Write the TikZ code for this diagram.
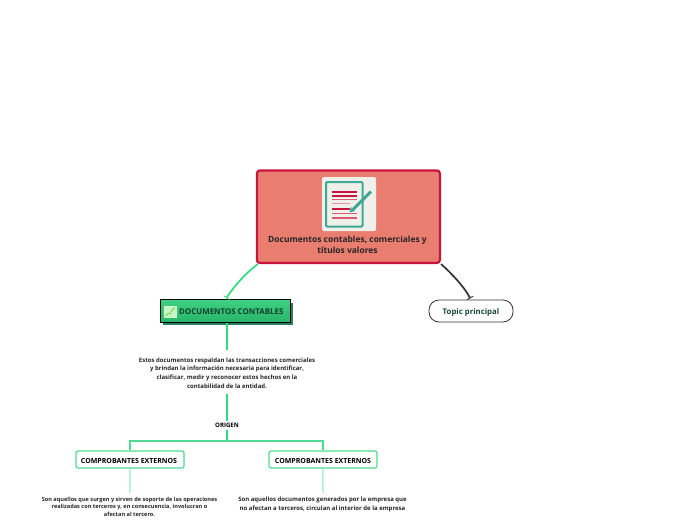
\documentclass[tikz,border=0pt]{standalone}
\usepackage{fontspec}
\setmainfont{Open Sans}[BoldFont={Open Sans Bold}]
\usetikzlibrary{arrows.meta}
\definecolor{crim}{HTML}{C8143C}
\definecolor{pinka}{HTML}{DB5A75}
\definecolor{pinkb}{HTML}{E8909F}
\definecolor{salmon}{HTML}{E97D6F}
\definecolor{paper}{HTML}{F0F0EA}
\definecolor{teal1}{HTML}{3FA796}
\definecolor{linkg}{HTML}{2FDC7E}
\definecolor{boxg}{HTML}{4FDB8F}
\definecolor{paleg}{HTML}{BDF3D4}
\definecolor{darkt}{HTML}{0E3F2E}
\definecolor{topict}{HTML}{17493A}
\definecolor{darkl}{HTML}{333333}
\definecolor{dctop}{HTML}{40D082}
\definecolor{dcbot}{HTML}{27B569}
\definecolor{dcsh}{HTML}{2E7D5B}
\tikzset{
  mainbox/.style={draw=crim,line width=2.2pt,fill=salmon,rounded corners=3pt,minimum width=183pt,minimum height=92.5pt,inner sep=0pt},
  maintext/.style={font=\fontsize{8.45}{11.6}\selectfont\bfseries,text=black!85,align=center,inner sep=0pt},
  dcbox/.style={draw=black,line width=1pt,top color=dctop,bottom color=dcbot,minimum width=129.5pt,minimum height=22.5pt,inner sep=0pt},
  dcshadow/.style={fill=dcsh,minimum width=129.5pt,minimum height=22.5pt,inner sep=0pt},
  dctext/.style={font=\fontsize{7.9}{8}\selectfont\bfseries,text=darkt,inner sep=0pt},
  topicbox/.style={draw=darkl,line width=.8pt,fill=white,rounded corners=10pt,minimum width=84pt,minimum height=22pt,inner sep=0pt},
  topictext/.style={font=\fontsize{7.8}{8}\selectfont\bfseries,text=topict,inner sep=0pt},
  notetext/.style={font=\fontsize{6}{8.7}\selectfont\bfseries,text=black!85,align=center,inner sep=0pt},
  notetight/.style={font=\fontsize{5.6}{7.7}\selectfont\bfseries,text=black!85,align=center,inner sep=0pt},
  extbox/.style={draw=boxg,line width=1.2pt,fill=white,rounded corners=2pt,minimum width=108pt,minimum height=17pt,inner sep=0pt},
  exttext/.style={font=\fontsize{7}{8}\selectfont\bfseries,text=black,inner sep=0pt},
  origtext/.style={font=\fontsize{6.1}{7}\selectfont\bfseries,text=black,inner sep=0pt},
  linkgreen/.style={draw=linkg,line width=1.7pt},
  linkbox/.style={draw=boxg,line width=1.5pt},
  linkpale/.style={draw=paleg,line width=1.5pt},
  bartip/.style={-{Bar[width=7pt,line width=.9pt]},shorten >=1.5pt},
  docline/.style={line width=1.7pt},
}
\begin{document}
\begin{tikzpicture}[x=1pt,y=-1pt]
\useasboundingbox (0,0) rectangle (696,520);
% central topic
\node[mainbox] (main) at (348.4,216.7) {};
\node[fill=paper,rounded corners=2pt,minimum size=54pt,inner sep=0pt] (icon) at (349,204) {};
\draw[teal1,line width=2pt,rounded corners=1pt,fill=paper] (326,182) rectangle (362.5,226.5);
\draw[docline,crim] (332,192.3) -- (356.5,192.3);
\draw[docline,crim] (332,195.9) -- (356.5,195.9);
\draw[docline,pinka] (332,199.5) -- (356.5,199.5);
\draw[docline,pinkb] (332,203.6) -- (350,203.6);
\draw[docline,crim] (332,209.3) -- (350,209.3);
\draw[docline,pinka] (332,213.4) -- (356.5,213.4);
\draw[docline,pinka] (332,217.8) -- (356.5,217.8);
\draw[teal1,line width=3pt] (371,191.5) -- (353,209.5);
\fill[teal1] (355,211) -- (351,207) -- (349.5,212.5) -- cycle;
\node[maintext] (maint) at (347.5,244.8) {Documentos contables, comerciales y\\títulos valores};
% documentos contables
\node[dcshadow] (dcs) at (228,314) {};
\node[dcbox] (dc) at (225.5,311) {};
\node[fill=green!15!paper,draw=white!80!green,line width=.3pt,minimum size=11.5pt,inner sep=0pt] (chart) at (170,311.5) {};
\draw[green!60!yellow!80!black,line width=.6pt] (165.5,316) -- (168,313.5) -- (170,314) -- (172,310) -- (175,307.5);
\node[dctext,anchor=west] (dct) at (179,312) {DOCUMENTOS CONTABLES};
% topic principal
\node[topicbox] (topic) at (471,311) {};
\node[topictext] (topict1) at (471,312) {Topic principal};
% note
\node[notetext] (note) at (227,373) {Estos documentos respaldan las transacciones comerciales\\y brindan la información necesaria para identificar,\\clasificar, medir y reconocer estos hechos en la\\contabilidad de la entidad.};
\node[origtext] (orig) at (227,425.5) {ORIGEN};
\coordinate (split) at (227,441);
\coordinate (noteout) at (227,394);
\coordinate (notein) at (227,350);
% external boxes
\node[extbox] (c1) at (130,459.5) {};
\node[exttext] (c1t) at (129,460.5) {COMPROBANTES EXTERNOS};
\node[extbox] (c2) at (323,459.5) {};
\node[exttext] (c2t) at (323,460.5) {COMPROBANTES EXTERNOS};
\coordinate (c1end) at (130,493);
\coordinate (c2end) at (323,493);
\node[notetight,anchor=north] (n1) at (129.5,496.8) {Son aquellos que surgen y sirven de soporte de las operaciones\\realizadas con terceros y, en consecuencia, involucran o\\afectan al tercero.};
\node[notetext,anchor=north] (n2) at (322.5,497) {Son aquellos documentos generados por la empresa que\\no afectan a terceros, circulan al interior de la empresa};
% connectors
\draw[linkgreen,bartip] (main.south west) ++(2,0) .. controls (247,272) and (235,285) .. (dc.north);
\draw[darkl,line width=1.7pt,bartip] (main.south east) .. controls (450,272) and (463,285) .. (topic.north);
\draw[linkgreen] (dc.south -| notein) -- (notein);
\draw[linkgreen,shorten >=2pt] (noteout) -- (orig.north);
\draw[linkgreen,shorten <=2pt] (orig.south) -- (split);
\draw[linkbox] (split) -| (c1.north);
\draw[linkbox] (split) -| (c2.north);
\draw[linkpale] (c1.south) -- (c1end);
\draw[linkpale] (c2.south) -- (c2end);
\end{tikzpicture}
\end{document}
